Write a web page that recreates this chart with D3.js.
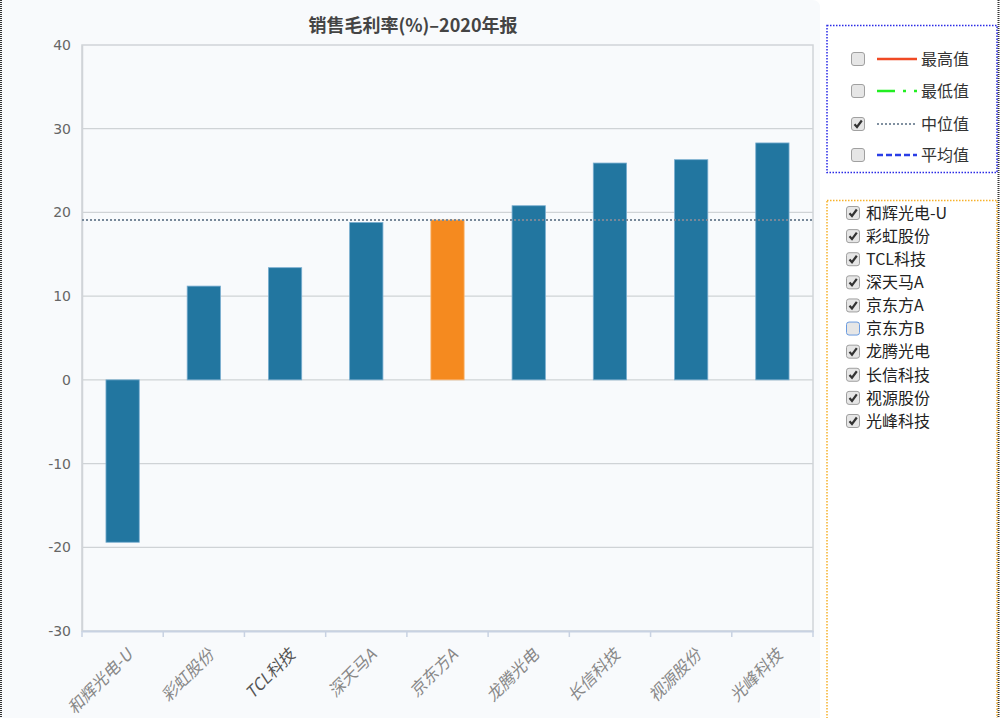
<!DOCTYPE html>
<html>
<head>
<meta charset="utf-8">
<script src="https://cdn.jsdelivr.net/npm/d3@7"></script>
<style>
  body { margin: 0; background: #fff; }
  svg { display: block; font-family: "Noto Sans CJK SC", "Noto Sans", sans-serif; }
</style>
</head>
<body>
<svg id="chart" width="1000" height="718"></svg>
<script>
// data
var companies = ["和辉光电-U", "彩虹股份", "TCL科技", "深天马A", "京东方A", "龙腾光电", "长信科技", "视源股份", "光峰科技"];
var margins = [-19.4, 11.2, 13.4, 18.8, 19.1, 20.8, 25.9, 26.3, 28.3];
var highlight = "京东方A";
var yTicks = [-30, -20, -10, 0, 10, 20, 30, 40];
var refNames = ["最高值", "最低值", "中位值", "平均值"];
var refChecked = [false, false, true, false];
var listNames = ["和辉光电-U", "彩虹股份", "TCL科技", "深天马A", "京东方A", "京东方B", "龙腾光电", "长信科技", "视源股份", "光峰科技"];
var listChecked = [true, true, true, true, true, false, true, true, true, true];

var svg = d3.select("#chart");

// panel background
svg.append("path")
  .attr("d", "M0,0 H812 Q820,0 820,8 V718 H0 Z")
  .attr("fill", "#f8fafc");

// page dotted edges
svg.append("line").attr("x1", 1).attr("x2", 1).attr("y1", 0).attr("y2", 718)
  .attr("stroke", "#333").attr("stroke-width", 2).attr("stroke-dasharray", "1,1");
svg.append("line").attr("x1", 998.5).attr("x2", 998.5).attr("y1", 0).attr("y2", 718)
  .attr("stroke", "#333").attr("stroke-width", 2).attr("stroke-dasharray", "1,1");

var plotL = 82, plotR = 813, plotT = 45, plotB = 631;

var x = d3.scaleBand().domain(companies).range([plotL, plotR]).paddingInner(0.59).paddingOuter(0.295);
var xTick = d3.scaleBand().domain(companies).range([plotL, plotR]);
var y = d3.scaleLinear().domain([-30, 40]).range([plotB, plotT]);

// title
svg.append("text")
  .attr("x", 413).attr("y", 32)
  .attr("text-anchor", "middle")
  .attr("font-size", 18).attr("font-weight", "bold")
  .attr("fill", "#444")
  .text("销售毛利率(%)–2020年报");

// plot frame
svg.append("rect")
  .attr("x", plotL).attr("y", plotT).attr("width", plotR - plotL).attr("height", plotB - plotT)
  .attr("fill", "none").attr("stroke", "#d0d4d8").attr("stroke-width", 1.5);

// grid
svg.append("g").selectAll("line")
  .data(yTicks.filter(function (d) { return d > -30 && d < 40; }))
  .enter().append("line")
  .attr("x1", plotL).attr("x2", plotR)
  .attr("y1", function (d) { return y(d); }).attr("y2", function (d) { return y(d); })
  .attr("stroke", "#cfd3d6").attr("stroke-width", 1.2);

// y axis
var yAxis = svg.append("g")
  .attr("transform", "translate(" + plotL + ",0)")
  .call(d3.axisLeft(y).tickValues(yTicks).tickFormat(String).tickSize(0).tickPadding(11));
yAxis.select(".domain").attr("stroke", "#d0d4d8").attr("stroke-width", 1.5);
yAxis.selectAll("text").attr("font-size", 14).attr("fill", "#666")
  .attr("font-family", "'DejaVu Sans', sans-serif");

// bars
svg.append("g").selectAll("rect")
  .data(companies)
  .enter().append("rect")
  .attr("x", function (d) { return x(d); })
  .attr("width", x.bandwidth())
  .attr("y", function (d, i) { return y(Math.max(0, margins[i])); })
  .attr("height", function (d, i) { return Math.abs(y(margins[i]) - y(0)); })
  .attr("fill", function (d) { return d === highlight ? "#f58a1f" : "#2276a0"; })
  .attr("stroke", function (d) { return d === highlight ? "#f9b877" : "#7aaed0"; })
  .attr("stroke-width", 0.8);

// x axis
var xAxis = svg.append("g")
  .attr("transform", "translate(0," + plotB + ")")
  .call(d3.axisBottom(xTick).tickSize(0).tickFormat(""));
xAxis.select(".domain").attr("stroke", "#c8d2e2").attr("stroke-width", 2);
var boundaries = companies.map(function (d) { return xTick(d); }).concat([plotR]);
svg.append("g").selectAll("line")
  .data(boundaries)
  .enter().append("line")
  .attr("x1", function (d) { return d; }).attr("x2", function (d) { return d; })
  .attr("y1", plotB).attr("y2", plotB + 6)
  .attr("stroke", "#c8d2e2").attr("stroke-width", 1.5);

svg.append("g").selectAll("text")
  .data(companies)
  .enter().append("text")
  .attr("transform", function (d) {
    return "translate(" + (x(d) + x.bandwidth() / 2 + 8) + "," + (plotB + 20) + ") rotate(-45) skewX(-12)";
  })
  .attr("text-anchor", "end")
  .attr("dy", "0.35em")
  .attr("font-size", 16.5)
  .attr("fill", function (d) { return d === "TCL科技" ? "#555" : "#888"; })
  .text(function (d) { return d; });

// median line
var med = d3.median(margins);
svg.append("line")
  .attr("x1", plotL).attr("x2", plotR)
  .attr("y1", y(med)).attr("y2", y(med))
  .attr("stroke", "#778899").attr("stroke-width", 2).attr("stroke-dasharray", "2,2");

// checkbox helper
function checkbox(g, cx, cy, checked, focus) {
  g.append("rect")
    .attr("x", cx - 6.5).attr("y", cy - 6.5).attr("width", 13).attr("height", 13).attr("rx", 2.5)
    .attr("fill", "#e6e6e6").attr("stroke", focus ? "#6a9be0" : "#a0a0a0").attr("stroke-width", 1);
  if (checked) {
    g.append("path")
      .attr("d", "M" + (cx - 3.5) + "," + (cy + 0.2) + " L" + (cx - 1) + "," + (cy + 3) + " L" + (cx + 3.8) + "," + (cy - 3.5))
      .attr("fill", "none").attr("stroke", "#333").attr("stroke-width", 2.2);
  }
}

// reference legend box
svg.append("rect")
  .attr("x", 827).attr("y", 25.5).attr("width", 170).attr("height", 147)
  .attr("fill", "none").attr("stroke", "#2a2ae6").attr("stroke-width", 1.5).attr("stroke-dasharray", "1.5,1.5");

var lineStyles = [
  { color: "#f04a24", dash: null, width: 2.5 },
  { color: "#22ee22", dash: "18,8,3,8", width: 2.5 },
  { color: "#8090a0", dash: "2,2", width: 2 },
  { color: "#2a3ee6", dash: "6,3", width: 2.5 }
];
var refRows = [59, 91, 124, 155];
refNames.forEach(function (name, i) {
  var g = svg.append("g");
  checkbox(g, 858, refRows[i], refChecked[i], false);
  g.append("line")
    .attr("x1", 877).attr("x2", 917).attr("y1", refRows[i]).attr("y2", refRows[i])
    .attr("stroke", lineStyles[i].color).attr("stroke-width", lineStyles[i].width)
    .attr("stroke-dasharray", lineStyles[i].dash);
  g.append("text")
    .attr("x", 921).attr("y", refRows[i]).attr("dy", "0.36em")
    .attr("font-size", 16).attr("fill", "#333").text(name);
});

// company list box
svg.append("rect")
  .attr("x", 827).attr("y", 200.5).attr("width", 170).attr("height", 530)
  .attr("fill", "none").attr("stroke", "#f7b12a").attr("stroke-width", 1.5).attr("stroke-dasharray", "1.5,1.5");

var listY = d3.scalePoint().domain(listNames).range([213, 421]);
listNames.forEach(function (name, i) {
  var g = svg.append("g");
  checkbox(g, 853, listY(name), listChecked[i], !listChecked[i]);
  g.append("text")
    .attr("x", 866).attr("y", listY(name)).attr("dy", "0.36em")
    .attr("font-size", 16).attr("fill", "#222").text(name);
});
</script>
</body>
</html>
